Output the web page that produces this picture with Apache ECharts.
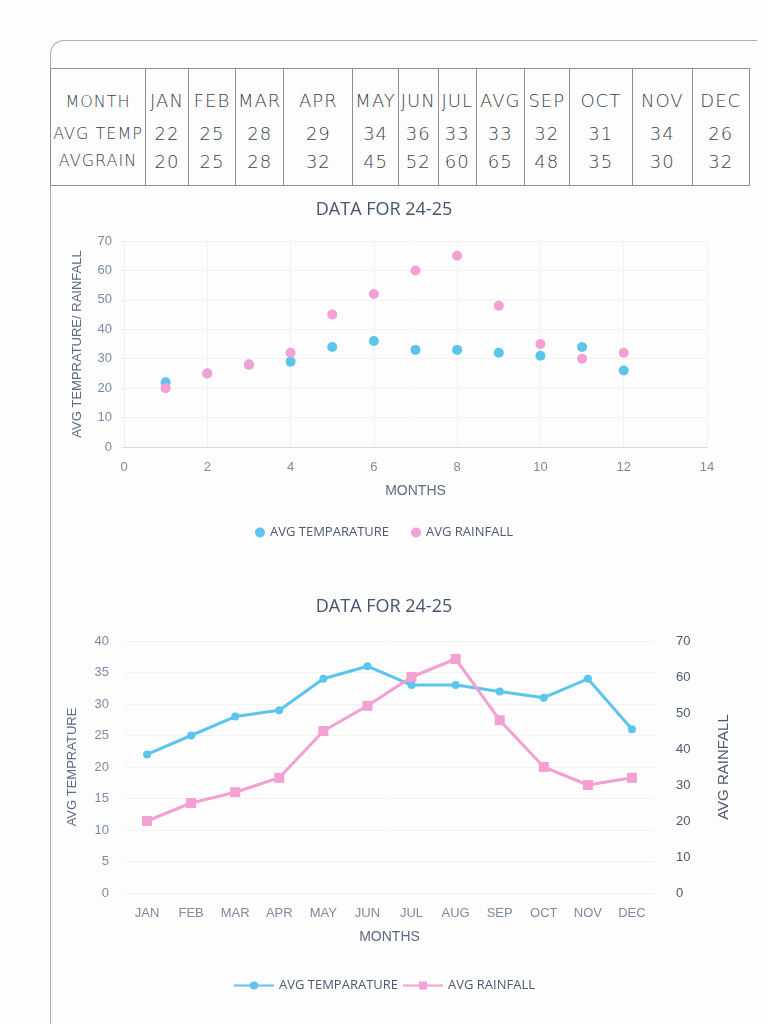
<!DOCTYPE html>
<html lang="en">
<head>
  <meta charset="UTF-8">
  <title>Data for 24-25</title>
  <script src="https://cdnjs.cloudflare.com/ajax/libs/echarts/6.0.0/echarts.min.js"></script>
  <style>
    body {
      margin: 0;
      width: 768px;
      height: 1024px;
      background: #fdfdfd;
      font-family: "Open Sans", sans-serif;
      position: relative;
      overflow: hidden;
    }

    .page-edge {
      position: absolute;
      left: 50px;
      top: 40px;
      width: 706px;
      height: 1000px;
      border: 1px solid #9fb0cc;
      border-right: none;
      border-bottom: none;
      border-radius: 14px 0 0 0;
    }

    .data-table {
      position: absolute;
      left: 50px;
      top: 68px;
      border-collapse: collapse;
      font-family: "DejaVu Sans", sans-serif;
      font-weight: 200;
      font-size: 18px;
      color: #3a3f4a;
      border-top: 1px solid #8a8f98;
      border-bottom: 1px solid #8a8f98;
    }

    .data-table td {
      border-left: 1px solid #8a8f98;
      border-right: 1px solid #8a8f98;
      height: 32px;
      padding: 0 2px;
      text-align: center;
      white-space: nowrap;
      letter-spacing: 1px;
    }

    .data-table tr:first-child td {
      height: 42px;
      vertical-align: bottom;
      padding-bottom: 6px;
    }

    .data-table tr:last-child td {
      height: 34px;
      vertical-align: top;
      padding-top: 2px;
    }

    #scatter-chart {
      position: absolute;
      left: 0;
      top: 190px;
      width: 768px;
      height: 360px;
    }

    #line-chart {
      position: absolute;
      left: 0;
      top: 585px;
      width: 768px;
      height: 430px;
    }
  </style>
</head>
<body>
  <div class="page-edge"></div>
  <table class="data-table" id="data-table"></table>
  <div id="scatter-chart"></div>
  <div id="line-chart"></div>

  <script>
    // values from the handwritten table
    const tableHeader = ['JAN', 'FEB', 'MAR', 'APR', 'MAY', 'JUN', 'JUL', 'AVG', 'SEP', 'OCT', 'NOV', 'DEC'];
    const months = ['JAN', 'FEB', 'MAR', 'APR', 'MAY', 'JUN', 'JUL', 'AUG', 'SEP', 'OCT', 'NOV', 'DEC'];
    const monthNumbers = [1, 2, 3, 4, 5, 6, 7, 8, 9, 10, 11, 12];
    const avgTemp = [22, 25, 28, 29, 34, 36, 33, 33, 32, 31, 34, 26];
    const avgRain = [20, 25, 28, 32, 45, 52, 60, 65, 48, 35, 30, 32];
    const colWidths = [95, 43, 47, 48, 69, 45, 37, 38, 48, 45, 63, 60, 57];

    const blue = '#5cc5ec';
    const pink = '#f3a0d2';
    const titleColor = '#46546c';
    const labelColor = '#7d8aa0';

    // build the table
    const table = document.getElementById('data-table');
    const rows = [
      ['MONTH'].concat(tableHeader),
      ['AVG TEMP'].concat(avgTemp),
      ['AVGRAIN'].concat(avgRain)
    ];
    rows.forEach(function (row) {
      const tr = document.createElement('tr');
      row.forEach(function (cell, i) {
        const td = document.createElement('td');
        td.textContent = cell;
        td.style.width = (colWidths[i] - 5) + 'px';
        if (i === 0) td.style.fontSize = '16px';
        tr.appendChild(td);
      });
      table.appendChild(tr);
    });

    const legendText = { color: '#4f5a6e', fontSize: 13, fontFamily: 'Open Sans' };

    // scatter chart
    const scatterChart = echarts.init(document.getElementById('scatter-chart'));
    scatterChart.setOption({
      title: {
        text: 'DATA FOR 24-25',
        left: 'center',
        top: 6,
        textStyle: { color: titleColor, fontSize: 18, fontWeight: 'normal', fontFamily: 'Open Sans' }
      },
      legend: {
        bottom: 6,
        left: 'center',
        itemWidth: 10,
        itemHeight: 10,
        itemGap: 22,
        icon: 'circle',
        textStyle: legendText,
        data: ['AVG TEMPARATURE', 'AVG RAINFALL']
      },
      grid: { left: 124, right: 61, top: 51, bottom: 103 },
      xAxis: {
        type: 'value',
        min: 0,
        max: 14,
        interval: 2,
        name: 'MONTHS',
        nameLocation: 'middle',
        nameGap: 37,
        nameTextStyle: { color: '#5e6b80', fontSize: 14 },
        axisLine: { lineStyle: { color: '#d6d9de' } },
        axisTick: { show: false },
        axisLabel: { color: labelColor, fontSize: 13, margin: 14 },
        splitLine: { show: true, lineStyle: { color: '#f1f2f4' } }
      },
      yAxis: {
        type: 'value',
        min: 0,
        max: 70,
        interval: 10,
        name: 'AVG TEMPRATURE/ RAINFALL',
        nameLocation: 'middle',
        nameGap: 40,
        nameTextStyle: { color: '#5e6b80', fontSize: 13 },
        axisLine: { show: true, lineStyle: { color: '#eceef1' } },
        axisLabel: { color: labelColor, fontSize: 13, margin: 12 },
        splitLine: { show: true, lineStyle: { color: '#f1f2f4' } }
      },
      series: [
        {
          name: 'AVG TEMPARATURE',
          type: 'scatter',
          symbolSize: 10,
          itemStyle: { color: blue, opacity: 1 },
          data: monthNumbers.map(function (m, i) { return [m, avgTemp[i]]; })
        },
        {
          name: 'AVG RAINFALL',
          type: 'scatter',
          symbolSize: 10,
          itemStyle: { color: pink, opacity: 1 },
          data: monthNumbers.map(function (m, i) { return [m, avgRain[i]]; })
        }
      ]
    });

    // line chart with two y axes
    const lineChart = echarts.init(document.getElementById('line-chart'));
    lineChart.setOption({
      title: {
        text: 'DATA FOR 24-25',
        left: 'center',
        top: 8,
        textStyle: { color: titleColor, fontSize: 18, fontWeight: 'normal', fontFamily: 'Open Sans' }
      },
      legend: {
        bottom: 18,
        left: 'center',
        itemWidth: 40,
        itemHeight: 10,
        itemGap: 4,
        textStyle: legendText,
        data: ['AVG TEMPARATURE', 'AVG RAINFALL']
      },
      grid: { left: 125, right: 114, top: 56, bottom: 122 },
      xAxis: {
        type: 'category',
        data: months,
        name: 'MONTHS',
        nameLocation: 'middle',
        nameGap: 37,
        nameTextStyle: { color: '#5e6b80', fontSize: 14 },
        axisLine: { show: false },
        axisTick: { show: false },
        axisLabel: { color: labelColor, fontSize: 13, margin: 14 }
      },
      yAxis: [
        {
          type: 'value',
          min: 0,
          max: 40,
          interval: 5,
          name: 'AVG TEMPRATURE',
          nameLocation: 'middle',
          nameGap: 46,
          nameTextStyle: { color: '#5e6b80', fontSize: 13 },
          axisLabel: { color: labelColor, fontSize: 13, margin: 16 },
          splitLine: { show: true, lineStyle: { color: '#f1f2f4' } }
        },
        {
          type: 'value',
          min: 0,
          max: 70,
          interval: 10,
          name: 'AVG RAINFALL',
          nameLocation: 'middle',
          nameGap: 62,
          nameTextStyle: { color: '#4f5a6e', fontSize: 15 },
          axisLabel: { color: '#4f5a6e', fontSize: 13, margin: 22 },
          splitLine: { show: false }
        }
      ],
      series: [
        {
          name: 'AVG TEMPARATURE',
          type: 'line',
          yAxisIndex: 0,
          data: avgTemp,
          symbol: 'circle',
          symbolSize: 8,
          lineStyle: { color: blue, width: 3 },
          itemStyle: { color: blue }
        },
        {
          name: 'AVG RAINFALL',
          type: 'line',
          yAxisIndex: 1,
          data: avgRain,
          symbol: 'rect',
          symbolSize: 10,
          lineStyle: { color: pink, width: 3 },
          itemStyle: { color: pink }
        }
      ]
    });
  </script>
</body>
</html>
